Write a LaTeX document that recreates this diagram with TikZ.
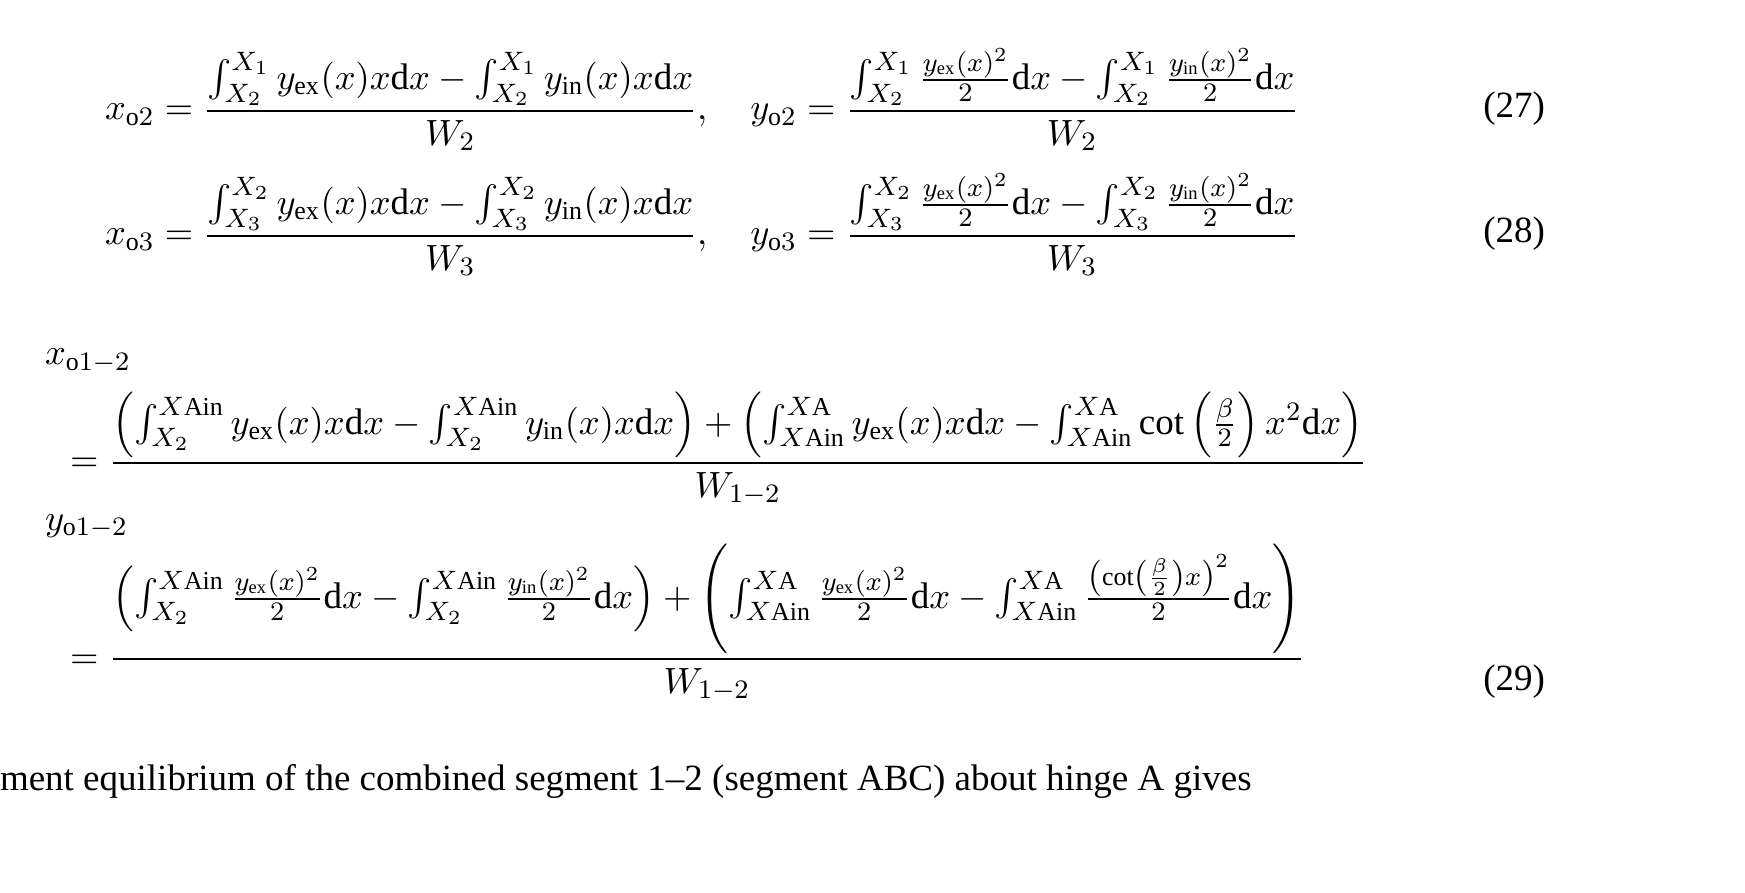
\documentclass[tikz,border=0pt]{standalone}
\usepackage{amsmath}
\usepackage{fontspec}
\setmainfont{Liberation Serif}
\begin{document}
\begin{tikzpicture}[x=0.3pt,y=-0.3pt,every node/.style={inner sep=0pt,outer sep=0pt,font=\fontsize{11.1}{13}\selectfont},
 eq/.style={anchor=base west}, num/.style={anchor=base east}]
\useasboundingbox (0,0) rectangle (1745,893);
\fill[white] (0,0) rectangle (1745,893);
\newcommand\ex{\mathrm{ex}}
\newcommand\inn{\mathrm{in}}
\newcommand\dd{\mathrm{d}x}
\node[eq] (a) at (105,120) {$\displaystyle x_{\mathrm{o}2}=\frac{\int_{X_2}^{X_1}y_\ex(x)x\dd-\int_{X_2}^{X_1}y_\inn(x)x\dd}{W_2},\quad y_{\mathrm{o}2}=\frac{\int_{X_2}^{X_1}\frac{y_\ex(x)^2}{2}\dd-\int_{X_2}^{X_1}\frac{y_\inn(x)^2}{2}\dd}{W_2}$};
\node[num] (n27) at (1545,118) {(27)};
\node[eq] (b) at (105,245) {$\displaystyle x_{\mathrm{o}3}=\frac{\int_{X_3}^{X_2}y_\ex(x)x\dd-\int_{X_3}^{X_2}y_\inn(x)x\dd}{W_3},\quad y_{\mathrm{o}3}=\frac{\int_{X_3}^{X_2}\frac{y_\ex(x)^2}{2}\dd-\int_{X_3}^{X_2}\frac{y_\inn(x)^2}{2}\dd}{W_3}$};
\node[num] (n28) at (1545,243) {(28)};
\node[eq] (c) at (45,365) {$x_{\mathrm{o}1-2}$};
\node[eq] (d) at (70,472) {$\displaystyle =\frac{\left(\int_{X_2}^{X\mathrm{Ain}}y_\ex(x)x\dd-\int_{X_2}^{X\mathrm{Ain}}y_\inn(x)x\dd\right)+\left(\int_{X\mathrm{Ain}}^{X\mathrm{A}}y_\ex(x)x\dd-\int_{X\mathrm{Ain}}^{X\mathrm{A}}\cot\left(\frac{\beta}{2}\right)x^2\dd\right)}{W_{1-2}}$};
\node[eq] (e) at (45,530) {$y_{\mathrm{o}1-2}$};
\node[eq] (f) at (70,668) {$\displaystyle =\frac{\left(\int_{X_2}^{X\mathrm{Ain}}\frac{y_\ex(x)^2}{2}\dd-\int_{X_2}^{X\mathrm{Ain}}\frac{y_\inn(x)^2}{2}\dd\right)+\Biggl(\int_{X\mathrm{Ain}}^{X\mathrm{A}}\frac{y_\ex(x)^2}{2}\dd-\int_{X\mathrm{Ain}}^{X\mathrm{A}}\frac{\left(\cot\left(\frac{\beta}{2}\right)x\right)^2}{2}\dd\Biggr)}{W_{1-2}}$};
\node[num] (n29) at (1545,690) {(29)};
\node[eq] (g) at (0,790) {ment equilibrium of the combined segment 1–2 (segment ABC) about hinge A gives};
\end{tikzpicture}
\end{document}
